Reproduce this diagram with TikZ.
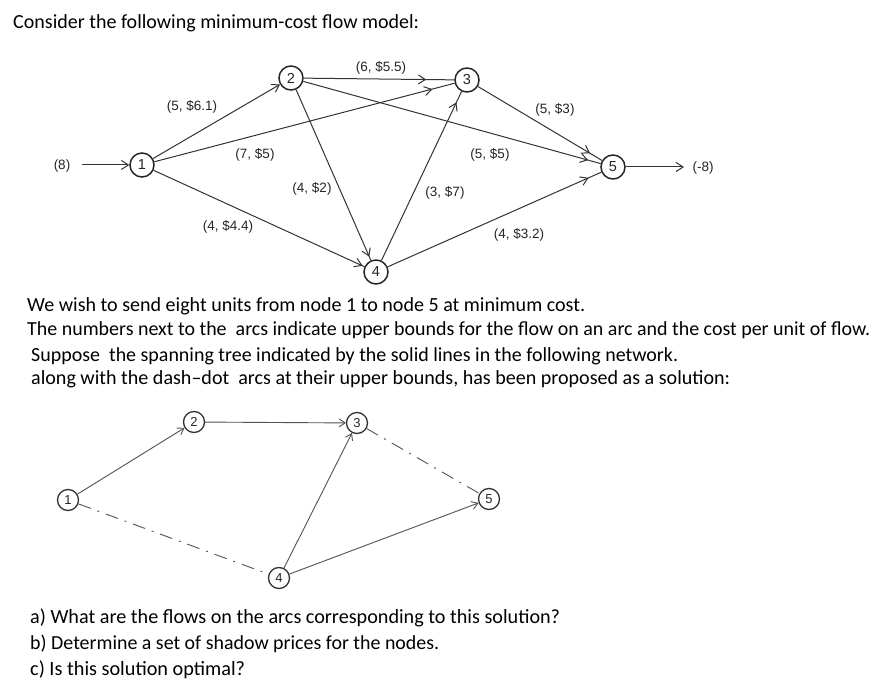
\documentclass[tikz,border=0pt]{standalone}
\usepackage{fontspec}
\setmainfont{Carlito}
\newfontfamily\labfont{Liberation Sans}
\usetikzlibrary{arrows.meta,decorations.markings}
\newcommand\fittext[2]{%
  \setbox0=\hbox{\fontsize{10}{10}\selectfont #2}%
  \pgfmathsetmacro\fitsz{10*#1/\the\wd0}%
  \fontsize{\fitsz}{\fitsz}\selectfont #2}
\tikzset{
  tnode/.style={circle, draw=black!85, line width=1.5pt, minimum size=24pt, inner sep=0pt,
    font=\labfont\fontsize{14.5}{14.5}\selectfont, text=black!85},
  bnode/.style={circle, draw=black!80, line width=1.3pt, minimum size=21pt, inner sep=0pt,
    font=\labfont\fontsize{13}{13}\selectfont, text=black!85},
  arcline/.style={draw=black!80, line width=1pt},
  barcline/.style={draw=black!68, line width=0.9pt},
  endtip/.style={arrows={-Straight Barb[length=7pt,width=9pt]}},
  bendtip/.style={arrows={-Straight Barb[length=6pt,width=8pt]}},
  midtip/.style={postaction={decorate}, decoration={markings,
    mark=at position -#1 with {\arrow{Straight Barb[length=7pt,width=9pt]}}}},
  lbl/.style={font=\labfont\fontsize{13.5}{13.5}\selectfont, text=black!85, inner sep=0pt},
  bodyline/.style={anchor=base west, inner sep=0pt, text=black},
  dashdot/.style={dash pattern=on 13pt off 7pt on 2pt off 7pt},
}
\begin{document}
\begin{tikzpicture}[x=1pt, y=-1pt]
\useasboundingbox[fill=white] (0,0) rectangle (873,695);

% title
\node[bodyline] (title) at (13,29) {\fittext{406}{Consider the following minimum-cost flow model:}};

% ---------- top network ----------
\node[tnode] (n1) at (142,165) {1};
\node[tnode] (n2) at (291,78) {2};
\node[tnode] (n3) at (467,80) {3};
\node[tnode] (n4) at (376,272) {4};
\node[tnode] (n5) at (613,167) {5};
\coordinate (src) at (82,165);
\coordinate (snk) at (684,167);

\draw[arcline, endtip] (src) -- (n1);
\draw[arcline, endtip] (n5) -- (snk);
\draw[arcline, endtip] (n1) -- (n2);
\draw[arcline, midtip=28pt] (n2) -- (n3);
\draw[arcline, midtip=23pt] (n1) -- (n3);
\draw[arcline, midtip=12pt] (n4) -- (n3);
\draw[arcline, midtip=14pt] (n3) -- (n5);
\draw[arcline, midtip=13pt] (n2) -- (n5);
\draw[arcline, midtip=14pt] (n4) -- (n5);
\draw[arcline, midtip=4pt] (n2) -- (n4);
\draw[arcline, midtip=2pt] (n1) -- (n4);

\node[lbl] (l8) at (62,166) {(8)};
\node[lbl] (lm8) at (703,168) {(-8)};
\node[lbl] (l12) at (192,107) {(5, \$6.1)};
\node[lbl] (l23) at (381,68) {(6, \$5.5)};
\node[lbl] (l13) at (255,155) {(7, \$5)};
\node[lbl] (l24) at (312,189) {(4, \$2)};
\node[lbl] (l14) at (228,227) {(4, \$4.4)};
\node[lbl] (l35) at (555,110) {(5, \$3)};
\node[lbl] (l25) at (490,155) {(5, \$5)};
\node[lbl] (l43) at (445,193) {(3, \$7)};
\node[lbl] (l45) at (519,235) {(4, \$3.2)};

% ---------- text ----------
\node[bodyline] (t1) at (27,311) {\fittext{558}{We wish to send eight units from node 1 to node 5 at minimum cost.}};
\node[bodyline] (t2) at (27,335) {\fittext{843}{The numbers next to the~ arcs indicate upper bounds for the flow on an arc and the cost per unit of flow.}};
\node[bodyline] (t3) at (31,361) {\fittext{647}{Suppose~ the spanning tree indicated by the solid lines in the following network.}};
\node[bodyline] (t4) at (31,384) {\fittext{699}{along with the dash–dot~ arcs at their upper bounds, has been proposed as a solution:}};

% ---------- bottom network ----------
\node[bnode] (m1) at (68,500) {1};
\node[bnode] (m2) at (194,422) {2};
\node[bnode] (m3) at (357,423) {3};
\node[bnode] (m4) at (279,578) {4};
\node[bnode] (m5) at (489,499) {5};

\draw[barcline, bendtip] (m1) -- (m2);
\draw[barcline, bendtip] (m2) -- (m3);
\draw[barcline, bendtip] (m4) -- (m3);
\draw[barcline, bendtip] (m4) -- (m5);
\draw[barcline, dashdot] (m1) -- (m4);
\draw[barcline, dashdot] (m3) -- (m5);

% ---------- questions ----------
\node[bodyline] (qa) at (30,623) {\fittext{530}{a) What are the flows on the arcs corresponding to this solution?}};
\node[bodyline] (qb) at (30,649) {\fittext{409}{b) Determine a set of shadow prices for the nodes.}};
\node[bodyline] (qc) at (30,675) {\fittext{215}{c) Is this solution optimal?}};
\end{tikzpicture}
\end{document}
